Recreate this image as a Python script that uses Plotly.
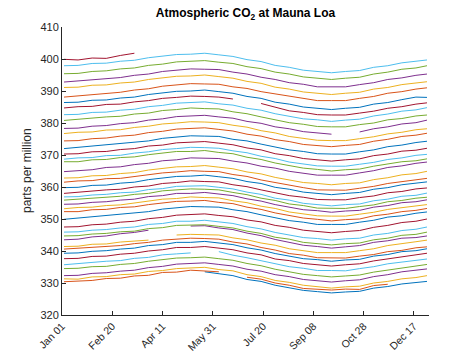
import plotly.graph_objects as go

N = None

# Day of year of each sample (Jan 01 = 1)
days = [3, 17, 31, 45, 59, 73, 87, 101, 115, 129, 143, 157, 171, 185, 199, 213, 227, 241, 255, 269, 283, 297, 311, 325, 339, 353, 364]

years = list(range(1974, 2016))

co2_1974 = [N, N, N, N, N, N, N, N, N, N, 333.5, 332.9, 332.3, 331.1, 330.5, 329.3, 328.6, 327.7, 327.3, 326.9, 327.2, 327.4, 328.4, 328.9, 329.7, 330.1, 330.5]
co2_1975 = [330.4, 330.6, 330.8, 331.4, 331.5, 332.2, 332.4, 333.3, 333.4, 334.0, 333.7, 333.5, N, 331.8, 331.2, 330.0, 329.3, 328.3, 328.0, 327.8, 328.1, 328.0, 329.2, 329.6, N, N, N]
co2_1976 = [331.3, 331.2, 331.9, 332.0, 332.6, 332.8, 333.6, 333.9, 334.5, 334.6, 334.9, 334.2, 333.8, 332.6, 332.0, 330.8, 330.2, 329.3, 328.9, 328.4, 328.8, 329.0, 330.0, 330.5, 331.3, 331.7, 332.3]
co2_1977 = [332.3, 332.4, 333.0, 333.2, 333.7, 334.0, 334.8, 335.2, 335.9, 336.0, 336.3, 335.8, 335.3, 334.3, 333.7, 332.6, 332.0, 331.1, 330.8, 330.3, 330.7, 331.0, 332.0, 332.6, 333.5, 333.9, 334.4]
co2_1978 = [334.5, 334.6, 335.1, 335.2, 335.8, 336.1, 336.8, 337.2, 337.8, 337.9, 338.1, 337.6, 337.1, 336.1, 335.4, 334.3, 333.6, 332.7, 332.3, 331.9, 332.2, 332.5, 333.4, 334.0, 334.8, 335.2, 335.8]
co2_1979 = [335.7, 336.1, 336.3, 336.8, 337.0, 337.7, 338.0, 338.8, 339.1, 339.4, N, 339.8, 338.7, 337.9, 336.9, 336.1, 335.1, 334.6, 333.9, 333.9, 333.8, 334.5, 335.1, 336.0, 336.5, 337.2, 337.5]
co2_1980 = [337.6, 337.7, 338.3, 338.4, 339.0, 339.3, 340.0, 340.4, 341.1, 341.1, 341.4, 340.9, 340.4, 339.4, 338.8, 337.5, 337.0, 336.1, 335.8, 335.3, 335.7, 336.0, 336.9, 337.5, 338.3, 338.7, 339.3]
co2_1981 = [339.3, 339.4, 339.9, 340.1, 340.6, 340.9, 341.7, 342.0, 342.7, 342.7, 343.0, 342.4, 342.0, 341.0, 340.3, 339.2, 338.5, 337.6, 337.3, 336.8, 337.2, 337.4, 338.4, 338.9, 339.8, 340.1, 340.7]
co2_1982 = [340.6, 340.9, 341.1, 341.6, 341.7, 342.3, 342.7, 343.4, 343.6, 344.0, 343.9, 343.7, 342.8, 342.2, 341.1, 340.3, 339.2, 338.7, 337.9, 337.8, 337.8, 338.4, 338.9, 339.8, 340.2, 341.0, 341.3]
co2_1983 = [341.4, 341.5, 342.1, 342.2, 342.8, 343.1, 343.4, N, 345.0, 345.2, 345.1, 345.0, 344.1, 343.5, 342.5, 341.8, 340.7, 340.2, 339.5, 339.5, 339.5, 340.1, 340.7, 341.7, 342.2, 342.9, 343.4]
co2_1984 = [343.5, 343.7, 344.4, 344.7, 345.4, 345.8, 346.5, N, N, 347.8, 347.9, 347.2, 346.7, 345.6, 344.8, 343.6, 342.8, 341.8, 341.4, 340.9, 341.3, 341.7, 342.7, 343.2, 344.0, 344.2, 344.7]
co2_1985 = [344.7, 344.8, 345.3, 345.5, 346.0, 346.2, 347.0, 347.3, 348.0, 348.0, 348.2, 347.7, 347.2, 346.2, 345.5, 344.3, 343.7, 342.7, 342.4, 341.9, 342.3, 342.5, 343.5, 344.0, 344.9, 345.2, 345.9]
co2_1986 = [345.9, 346.0, 346.5, 346.7, 347.2, 347.5, 348.3, 348.6, 349.3, 349.3, 349.6, 349.0, 348.6, 347.6, 346.9, 345.8, 345.1, 344.2, 343.9, 343.4, 343.8, 344.0, 345.0, 345.5, 346.4, 346.8, 347.5]
co2_1987 = [347.5, 347.6, 348.2, 348.4, 349.0, 349.3, 350.1, 350.5, 351.2, 351.3, 351.6, 351.1, 350.7, 349.7, 349.1, 348.0, 347.4, 346.5, 346.1, 345.7, 346.1, 346.4, 347.4, 348.0, 348.9, 349.3, 350.0]
co2_1988 = [349.9, 350.3, 350.5, 351.1, 351.3, 351.9, 352.3, 353.1, 353.4, 353.9, 353.8, 353.7, 352.9, 352.3, 351.3, 350.5, 349.5, 349.0, 348.3, 348.3, 348.3, 349.0, 349.6, 350.6, 351.0, 351.8, 352.2]
co2_1989 = [352.3, 352.3, 352.9, 353.0, 353.6, 353.8, 354.5, 354.9, 355.5, 355.6, 355.8, 355.2, 354.8, 353.7, 353.0, 351.9, 351.2, 350.3, 349.9, 349.4, 349.8, 350.0, 351.0, 351.5, 352.3, 352.7, 353.3]
co2_1990 = [353.2, 353.6, 353.7, 354.2, 354.4, 355.0, 355.4, 356.2, 356.4, 356.9, 356.7, 356.6, 355.7, 355.1, 354.0, 353.3, 352.2, 351.7, 351.0, 350.9, 350.9, 351.5, 352.1, 353.0, 353.5, 354.2, 354.5]
co2_1991 = [354.6, 354.7, 355.2, 355.4, 355.9, 356.2, 357.0, 357.3, 358.0, 358.0, 358.3, 357.7, 357.3, 356.3, 355.6, 354.5, 353.8, 352.9, 352.6, 352.1, 352.5, 352.7, 353.7, 354.2, 355.1, 355.4, 356.0]
co2_1992 = [355.9, 356.2, 356.4, 356.9, 357.1, 357.7, 358.0, 358.8, 359.0, 359.4, 359.3, 359.1, 358.3, 357.6, 356.5, 355.8, 354.7, 354.2, 353.4, 353.3, 353.3, 353.9, 354.4, 355.4, 355.8, 356.5, 356.8]
co2_1993 = [356.9, 357.0, 357.5, 357.7, 358.2, 358.4, 359.2, 359.5, 360.2, 360.2, 360.4, 359.9, 359.4, 358.4, 357.7, 356.5, 355.9, 354.9, 354.6, 354.1, 354.5, 354.7, 355.7, 356.2, 357.1, 357.4, 358.1]
co2_1994 = [358.0, 358.4, 358.6, 359.1, 359.3, 360.0, 360.3, 361.1, 361.4, 361.9, 361.7, 361.6, 360.7, 360.1, 359.1, 358.3, 357.3, 356.8, 356.1, 356.0, 356.0, 356.7, 357.2, 358.2, 358.6, 359.4, 359.7]
co2_1995 = [359.8, 359.9, 360.5, 360.6, 361.2, 361.5, 362.3, 362.7, 363.3, 363.4, 363.7, 363.2, 362.7, 361.7, 361.1, 359.9, 359.3, 358.4, 358.1, 357.6, 358.0, 358.3, 359.3, 359.8, 360.7, 361.1, 361.6]
co2_1996 = [361.5, 361.9, 362.0, 362.6, 362.7, 363.3, 363.7, 364.4, 364.7, 365.1, 364.9, 364.8, 363.9, 363.3, 362.2, 361.4, 360.4, 359.8, 359.1, 359.0, 359.0, 359.6, 360.2, 361.1, 361.6, 362.3, 362.7]
co2_1997 = [362.8, 362.9, 363.5, 363.6, 364.2, 364.5, 365.3, 365.7, 366.3, 366.4, 366.7, 366.2, 365.7, 364.7, 364.1, 363.0, 362.3, 361.4, 361.1, 360.7, 361.1, 361.3, 362.3, 362.9, 363.8, 364.2, 364.9]
co2_1998 = [364.8, 365.2, 365.4, 366.1, 366.3, 367.0, 367.4, 368.2, 368.5, 369.1, 369.0, 368.9, 368.1, 367.5, 366.5, 365.9, 364.9, 364.4, 363.7, 363.7, 363.7, 364.4, 365.1, 366.1, 366.6, 367.4, 367.8]
co2_1999 = [367.9, 367.9, 368.5, 368.6, 369.2, 369.4, 370.1, 370.5, 371.1, 371.1, 371.4, 370.8, 370.4, 369.3, 368.6, 367.5, 366.8, 365.9, 365.5, 365.0, 365.4, 365.6, 366.5, 367.1, 367.9, 368.2, 368.8]
co2_2000 = [368.7, 369.1, 369.2, 369.8, 369.9, 370.6, 371.0, 371.7, 372.0, 372.4, 372.3, 372.1, 371.3, 370.7, 369.6, 368.9, 367.8, 367.3, 366.6, 366.5, 366.5, 367.1, 367.7, 368.6, 369.1, 369.9, 370.2]
co2_2001 = [370.3, 370.4, 371.0, 371.1, 371.7, 372.0, 372.8, 373.1, 373.8, 373.9, 374.2, 373.7, 373.2, 372.2, 371.6, 370.4, 369.8, 368.9, 368.6, 368.1, 368.5, 368.8, 369.8, 370.3, 371.2, 371.5, 372.1]
co2_2002 = [372.0, 372.4, 372.6, 373.2, 373.4, 374.0, 374.4, 375.2, 375.5, 376.0, 375.9, 375.8, 374.9, 374.4, 373.4, 372.6, 371.6, 371.1, 370.4, 370.3, 370.3, 371.0, 371.6, 372.6, 373.1, 373.9, 374.3]
co2_2003 = [374.4, 374.5, 375.1, 375.3, 375.9, 376.2, 377.0, 377.4, 378.1, 378.2, 378.5, 378.0, 377.5, 376.5, 375.9, 374.8, 374.2, 373.3, 373.0, 372.6, 373.0, 373.3, 374.3, 374.9, 375.8, 376.2, 376.8]
co2_2004 = [376.7, 377.1, 377.2, 377.8, 377.9, 378.6, 379.0, 379.7, 380.0, 380.4, 380.3, 380.1, 379.3, 378.7, 377.6, 376.9, 375.8, 375.3, 374.6, 374.5, 374.5, 375.1, 375.7, 376.6, 377.1, 377.9, 378.2]
co2_2005 = [378.3, 378.4, 379.0, 379.2, 379.8, 380.1, 380.9, 381.3, 382.0, 382.1, 382.4, 381.9, 381.5, 380.5, 379.9, 378.8, 378.2, 377.3, 376.9, 376.5, N, 377.2, 378.2, 378.8, 379.7, 380.1, 380.9]
co2_2006 = [380.8, 381.2, 381.4, 381.9, 382.1, 382.8, 383.1, 383.9, 384.2, 384.7, 384.5, 384.4, 383.5, 382.9, 381.9, 381.1, 380.1, 379.6, 378.9, 378.8, 378.8, 379.5, 380.0, 381.0, 381.4, 382.2, 382.5]
co2_2007 = [382.6, 382.7, 383.3, 383.4, 384.0, 384.3, 385.1, 385.5, 386.2, 386.3, 386.6, 386.0, 385.6, 384.6, 384.0, 382.9, 382.2, 381.3, 381.0, 380.5, 380.9, 381.2, 382.2, 382.8, 383.7, 384.1, 384.8]
co2_2008 = [384.7, 385.1, 385.2, 385.8, 385.9, 386.6, 387.0, 387.7, 388.0, 388.4, 388.3, 388.1, 387.5, N, 386.1, 384.9, 383.8, 383.3, 382.6, 382.5, 382.5, 383.1, 383.7, 384.6, 385.1, 385.9, 386.3]
co2_2009 = [386.4, 386.5, 387.1, 387.2, 387.8, 388.1, 388.9, 389.3, 389.9, 390.0, 390.3, 389.8, 389.3, 388.3, 387.7, 386.5, 385.9, 385.0, 384.7, 384.2, 384.6, 384.9, 385.9, 386.4, 387.3, 388.1, 388.0]
co2_2010 = [388.1, 388.5, 388.7, 389.3, 389.6, 390.3, 390.7, 391.5, 391.8, 392.3, 392.2, 392.1, 391.3, 390.8, 389.8, 389.1, 388.2, 387.7, 387.0, 387.0, 387.0, 387.7, 388.3, 389.3, 389.8, 390.6, 391.0]
co2_2011 = [391.1, 391.2, 391.8, 391.9, 392.5, 392.8, 393.6, 394.0, 394.6, 394.7, 395.0, 394.5, 394.0, 393.0, 392.4, 391.2, 390.6, 389.7, 389.4, 388.9, 389.3, 389.6, 390.6, 391.1, 392.0, 392.4, 392.9]
co2_2012 = [392.8, 393.2, 393.4, 394.0, 394.2, 394.9, 395.3, 396.1, 396.4, 396.9, 396.8, 396.7, 395.9, 395.3, 394.3, 393.6, 392.6, 392.1, 391.3, 391.3, 391.3, 392.0, 392.6, 393.6, 394.1, 394.9, 395.3]
co2_2013 = [395.4, 395.5, 396.1, 396.3, 396.9, 397.2, 398.0, 398.4, 399.1, 399.2, 399.5, 399.0, 398.6, 397.6, 397.0, 395.9, 395.3, 394.4, 394.0, 393.6, 394.0, 394.3, 395.3, 395.9, 396.8, 397.2, 397.9]
co2_2014 = [397.9, 398.0, 398.6, 398.7, 399.3, 399.6, 400.4, 400.8, 401.4, 401.5, 401.8, 401.3, 400.8, 399.8, 399.2, 398.0, 397.4, 396.5, 396.2, 395.7, 396.1, 396.4, 397.4, 397.9, 398.8, 399.2, 399.7]
co2_2015 = [399.9, 399.7, 400.3, 400.2, 401.1, 401.8, N, N, N, N, N, N, N, N, N, N, N, N, N, N, N, N, N, N, N, N, N]

tick_days = [1, 51, 101, 151, 201, 251, 301, 351]
tick_labels = ["Jan 01", "Feb 20", "Apr 11", "May 31", "Jul 20", "Sep 08", "Oct 28", "Dec 17"]

colors = ["#0072BD", "#D95319", "#EDB120", "#7E2F8E", "#77AC30", "#4DBEEE", "#A2142F"]

series = [co2_1974, co2_1975, co2_1976, co2_1977, co2_1978, co2_1979, co2_1980,
          co2_1981, co2_1982, co2_1983, co2_1984, co2_1985, co2_1986, co2_1987,
          co2_1988, co2_1989, co2_1990, co2_1991, co2_1992, co2_1993, co2_1994,
          co2_1995, co2_1996, co2_1997, co2_1998, co2_1999, co2_2000, co2_2001,
          co2_2002, co2_2003, co2_2004, co2_2005, co2_2006, co2_2007, co2_2008,
          co2_2009, co2_2010, co2_2011, co2_2012, co2_2013, co2_2014, co2_2015]

fig = go.Figure()
for i, (yr, vals) in enumerate(zip(years, series)):
    fig.add_trace(go.Scatter(
        x=days, y=vals, mode="lines", name=str(yr),
        line=dict(color=colors[i % 7], width=1),
        connectgaps=False, showlegend=False, hoverinfo="skip"))

FONT = "Liberation Sans, Arial, Helvetica, sans-serif"
fig.update_layout(
    template="none",
    width=474, height=355,
    margin=dict(l=62, r=45, t=27, b=40),
    paper_bgcolor="white", plot_bgcolor="white",
    font=dict(family=FONT, size=11, color="#262626"),
    showlegend=False,
    title=dict(text="<b>Atmospheric CO<sub>2</sub> at Mauna Loa</b>",
               x=0.5, xref="paper", xanchor="center",
               y=1 - 13 / 355, yref="container", yanchor="middle",
               font=dict(family=FONT, size=12, color="#000000")),
    xaxis=dict(range=[1, 366], tickmode="array", tickvals=tick_days, ticktext=tick_labels,
               tickangle=-45, ticks="inside", ticklen=4, tickcolor="#262626",
               showline=True, linecolor="#262626", linewidth=1,
               showgrid=False, zeroline=False, automargin=False,
               tickfont=dict(family=FONT, size=10.5, color="#262626")),
    yaxis=dict(range=[320, 410], tickmode="linear", tick0=320, dtick=10,
               ticks="inside", ticklen=4, tickcolor="#262626",
               showline=True, linecolor="#262626", linewidth=1,
               showgrid=False, zeroline=False, automargin=False,
               tickfont=dict(family=FONT, size=11, color="#262626")),
    annotations=[dict(text="parts per million", xref="paper", yref="paper",
                      x=(27 - 62) / 367, y=0.5, xanchor="center", yanchor="middle",
                      textangle=-90, showarrow=False,
                      font=dict(family=FONT, size=12, color="#262626"))],
)

fig.write_html("out.html", config={"displayModeBar": False},
               post_script="document.body.style.margin='0';document.body.style.overflow='hidden';")
